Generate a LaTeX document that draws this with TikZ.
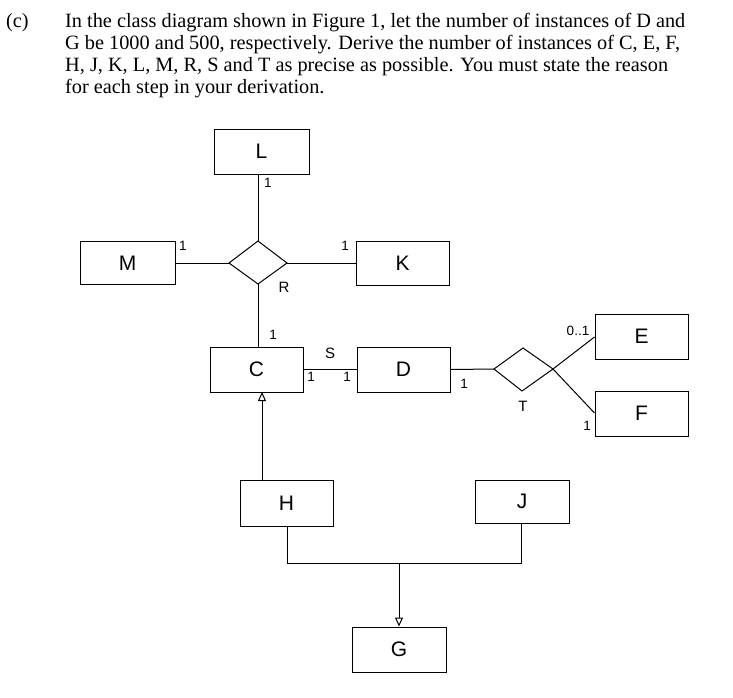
\documentclass[tikz,border=0pt]{standalone}
\usepackage{fontspec}
\setmainfont{Liberation Serif}
\newfontfamily\arial{Liberation Sans}
\usetikzlibrary{arrows.meta}
\begin{document}
\begin{tikzpicture}[x=1pt,y=-1pt,
  box/.style={draw,line width=1pt,inner sep=0pt,font=\arial\fontsize{21}{21}\selectfont},
  ln/.style={line width=1pt},
  card/.style={font=\arial\fontsize{13.5}{13.5}\selectfont,inner sep=0pt},
  txt/.style={anchor=base west,inner sep=0pt,font=\fontsize{20.3}{22}\selectfont},
  inh/.style={ln,-{Triangle[open,length=9pt,width=8pt]}}]
\useasboundingbox (0,0) rectangle (733,697);
\node[txt] (c0) at (6,27) {(c)};
\node[txt] (t1) at (65,27) {In the class diagram shown in Figure 1, let the number of instances of D and};
\node[txt] (t2) at (65,49) {G be 1000 and 500, respectively. Derive the number of instances of C, E, F,};
\node[txt] (t3) at (65,71) {H, J, K, L, M, R, S and T as precise as possible. You must state the reason};
\node[txt] (t4) at (65,93) {for each step in your derivation.};
% boxes
\node[box,minimum width=95,minimum height=45] (L) at (261.5,151.5) {L};
\node[box,minimum width=95,minimum height=43] (M) at (127.5,263) {M};
\node[box,minimum width=93,minimum height=44] (K) at (402.5,263) {K};
\node[box,minimum width=93,minimum height=45] (C) at (256.5,369.5) {C};
\node[box,minimum width=93,minimum height=45] (D) at (403.5,369.5) {D};
\node[box,minimum width=93,minimum height=45] (E) at (641.5,336.5) {E};
\node[box,minimum width=93,minimum height=45] (F) at (641.5,413.5) {F};
\node[box,minimum width=93,minimum height=46] (H) at (286.5,503) {H};
\node[box,minimum width=94,minimum height=43] (J) at (522,501.5) {J};
\node[box,minimum width=94,minimum height=45] (G) at (399,649.5) {G};
% diamond R
\coordinate (Rl) at (229,263); \coordinate (Rt) at (258,241);
\coordinate (Rr) at (287,263); \coordinate (Rb) at (258,284);
\draw[ln] (Rl) -- (Rt) -- (Rr) -- (Rb) -- cycle;
% diamond T
\coordinate (Tl) at (494,369); \coordinate (Tt) at (523,348);
\coordinate (Tr) at (553,369); \coordinate (Tb) at (522,391);
\draw[ln] (Tl) -- (Tt) -- (Tr) -- (Tb) -- cycle;
% connectors
\draw[ln] (L.south -| Rt) -- (Rt);
\draw[ln] (M.east) -- (Rl);
\draw[ln] (Rr) -- (K.west);
\draw[ln] (Rb) -- (C.north -| Rb);
\draw[ln] (C.east) -- (D.west);
\draw[ln] (D.east) -- (Tl);
\draw[ln] (Tr) -- (E.west |- 0,337);
\draw[ln] (Tr) -- (F.west |- 0,413);
% inheritance
\coordinate (hc) at (262,480);
\draw[inh] (hc) -- (262,392);
\coordinate (j1) at (287,563); \coordinate (j2) at (521,563); \coordinate (j3) at (399,563);
\draw[ln] (H.south -| j1) -- (j1) -- (j2) -- (J.south -| j2);
\draw[inh] (j3) -- (G.north);
% labels
\node[card] (a1) at (268,183) {1};
\node[card] (a2) at (183,246) {1};
\node[card] (a3) at (345,246) {1};
\node[card,font=\arial\fontsize{15}{15}\selectfont] (aR) at (284,287) {R};
\node[card] (a4) at (273,335) {1};
\node[card,font=\arial\fontsize{15}{15}\selectfont] (aS) at (330,353) {S};
\node[card] (a5) at (311,377) {1};
\node[card] (a6) at (347,377) {1};
\node[card] (a7) at (464,384) {1};
\node[card,font=\arial\fontsize{15}{15}\selectfont] (aT) at (523,406) {T};
\node[card] (a8) at (578,331) {0..1};
\node[card] (a9) at (587,426) {1};
\end{tikzpicture}
\end{document}
